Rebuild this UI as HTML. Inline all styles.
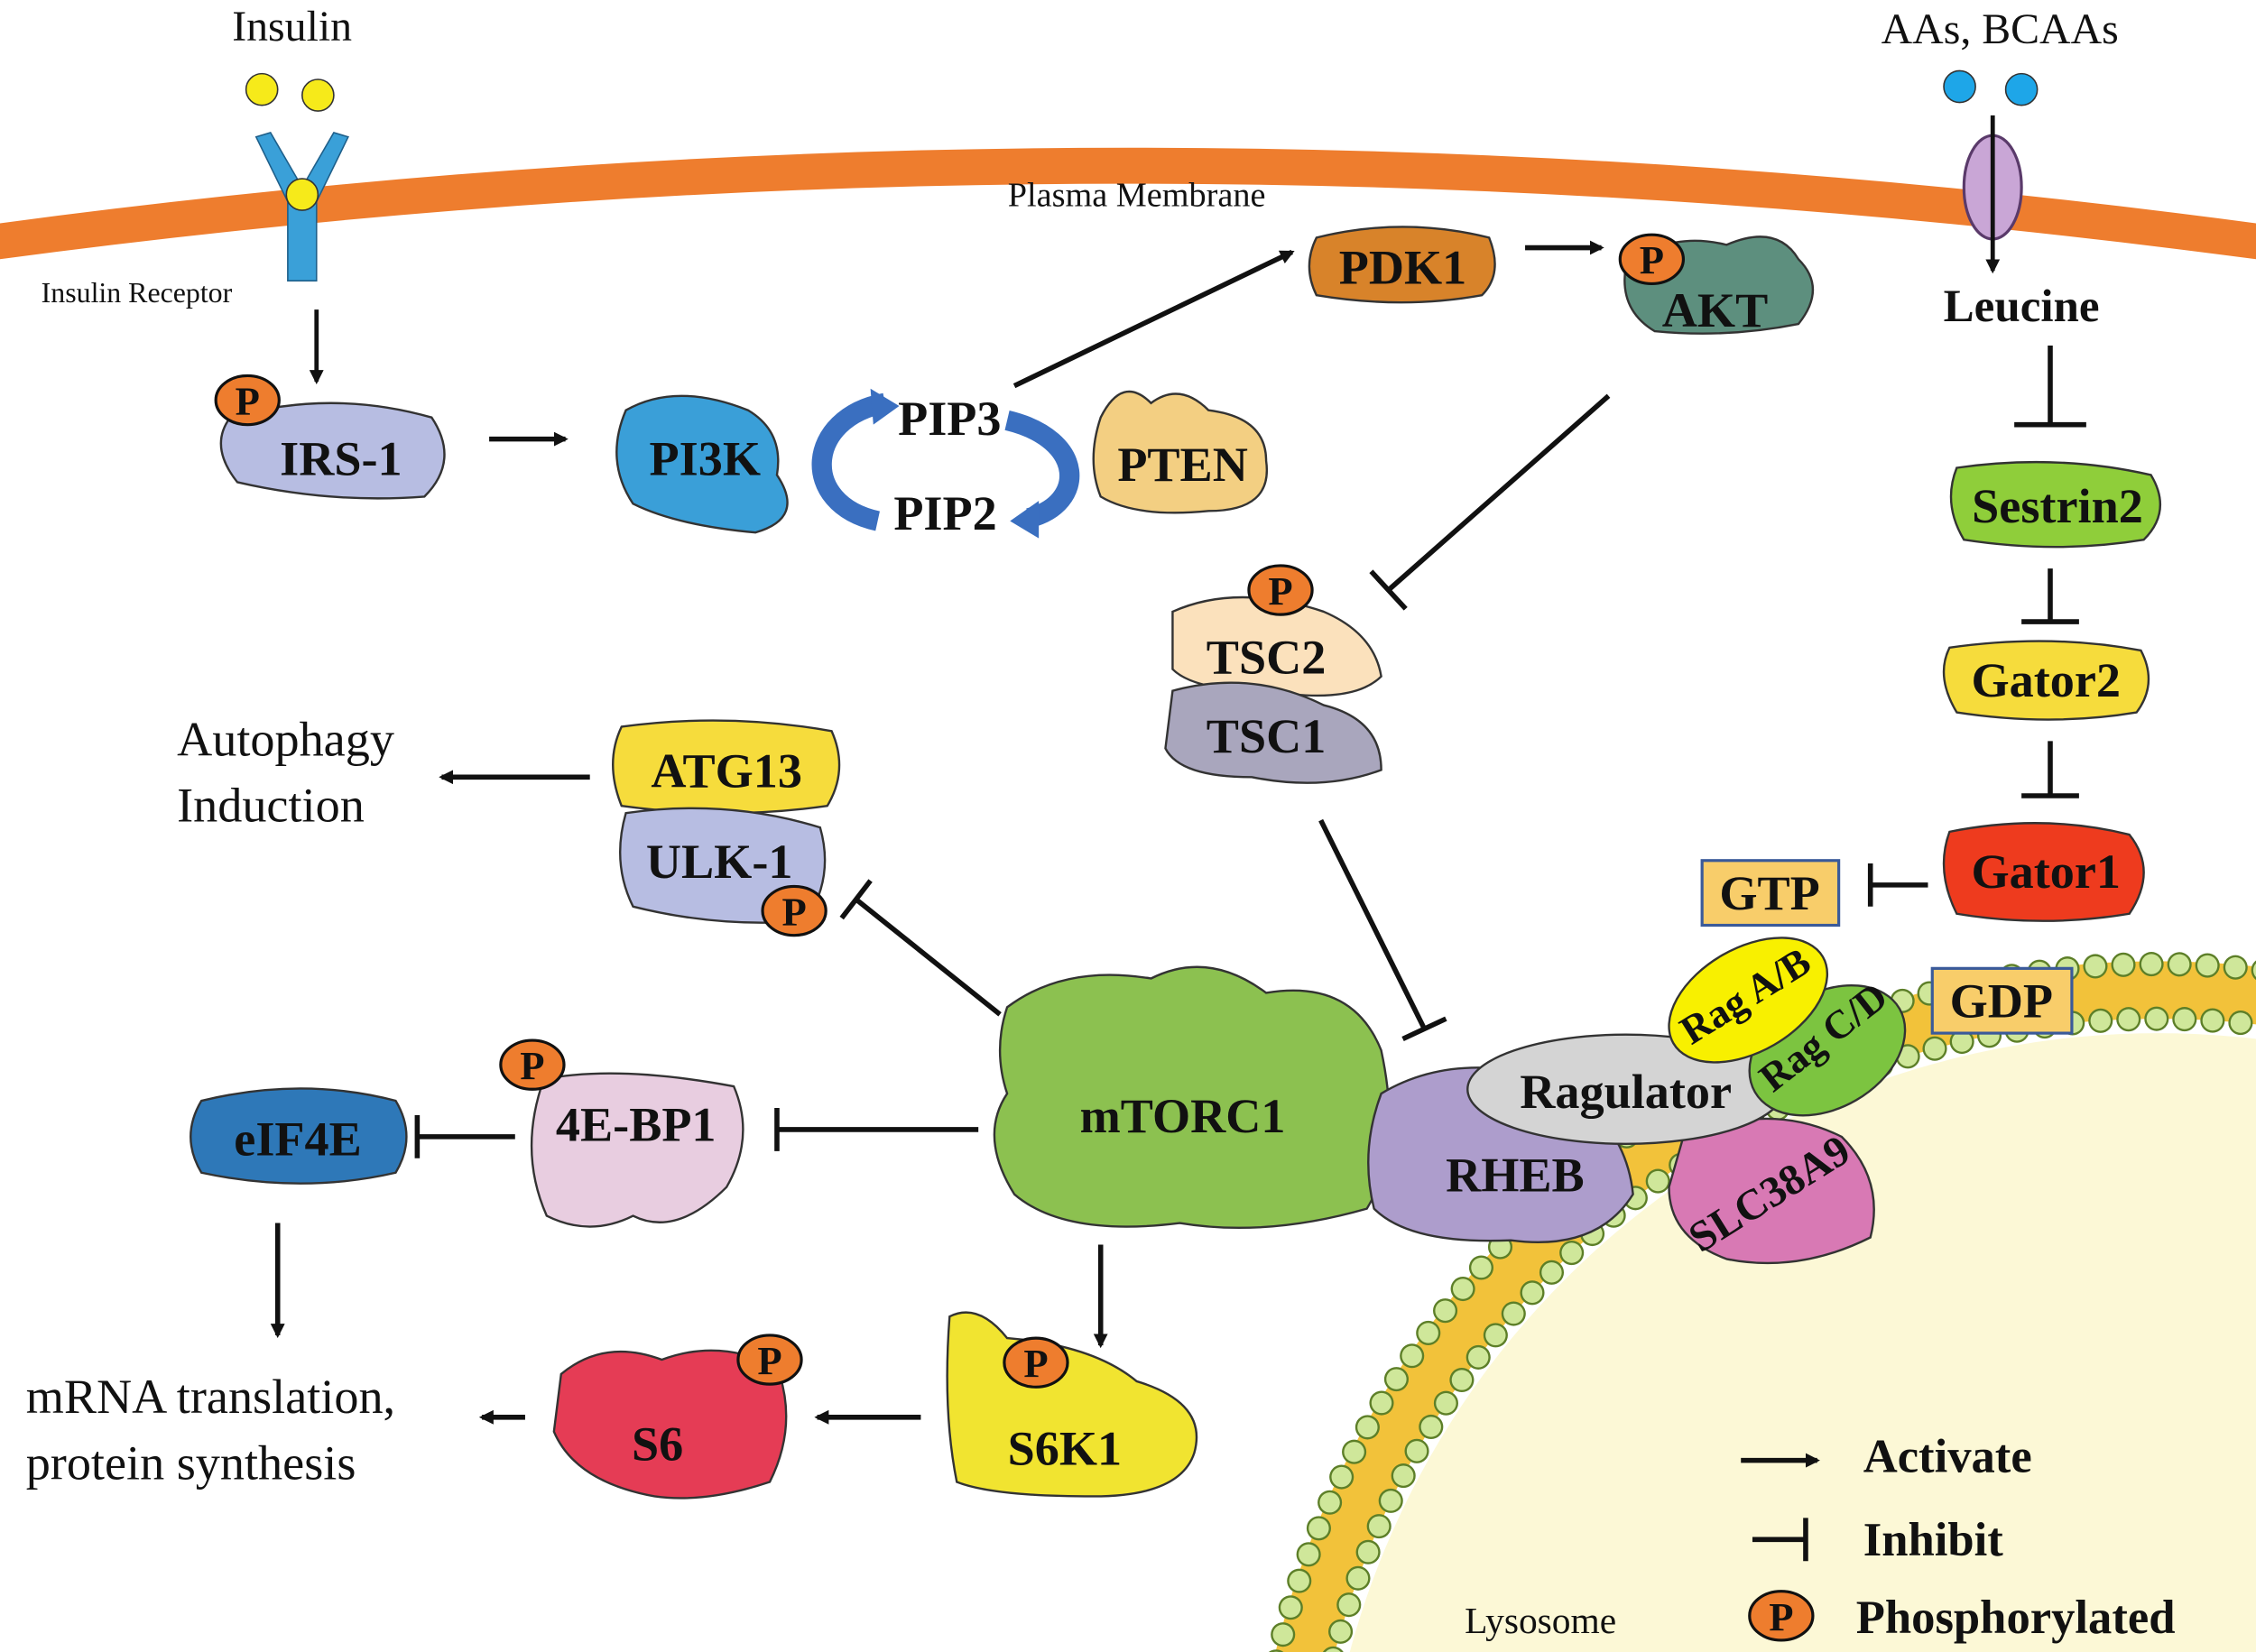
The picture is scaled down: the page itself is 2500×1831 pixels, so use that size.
<!DOCTYPE html>
<html><head><meta charset="utf-8"><style>
html,body{margin:0;padding:0;background:#fff;width:2500px;height:1831px;overflow:hidden}
svg{display:block}
text{font-family:"Liberation Serif",serif;font-weight:bold;fill:#111}
</style></head><body>
<svg width="2500" height="1831" viewBox="0 0 1568 1148" xmlns="http://www.w3.org/2000/svg">
<defs>
<marker id="ar" markerWidth="10" markerHeight="10" refX="8" refY="5" orient="auto" markerUnits="userSpaceOnUse"><path d="M0,0 L10,5 L0,10 z" fill="#111"/></marker>
</defs>
<rect width="1568" height="1148" fill="#fff"/>
<!-- lysosome -->
<circle cx="1500" cy="1300" r="612" fill="none" stroke="#f2c23a" stroke-width="40"/>
<circle cx="1500" cy="1300" r="630" fill="none" stroke="#5d7f28" stroke-width="17" stroke-linecap="round" stroke-dasharray="0 19.5"/>
<circle cx="1500" cy="1300" r="630" fill="none" stroke="#cfe79a" stroke-width="14" stroke-linecap="round" stroke-dasharray="0 19.5"/>
<circle cx="1500" cy="1300" r="592" fill="none" stroke="#5d7f28" stroke-width="17" stroke-linecap="round" stroke-dasharray="0 19.5"/>
<circle cx="1500" cy="1300" r="592" fill="none" stroke="#cfe79a" stroke-width="14" stroke-linecap="round" stroke-dasharray="0 19.5"/>
<circle cx="1500" cy="1300" r="582" fill="#fcf8d6"/>
<!-- membrane -->
<path d="M0,155 Q784,50 1568,155 L1568,180 Q784,75 0,180 Z" fill="#ee7d2e"/>
<text x="790" y="143" font-size="24" text-anchor="middle" style="font-weight:normal">Plasma Membrane</text>
<!-- insulin -->
<text x="203" y="28" font-size="30" text-anchor="middle" style="font-weight:normal">Insulin</text>
<circle cx="182" cy="62" r="11" fill="#f6ea1a" stroke="#333"/>
<circle cx="221" cy="66" r="11" fill="#f6ea1a" stroke="#333"/>
<path d="M178,95 L200,140 L200,195 L220,195 L220,140 L242,95 L232,92 L210,130 L188,92 Z" fill="#3aa0d8" stroke="#1e5f8a"/>
<circle cx="210" cy="135" r="11" fill="#f6ea1a" stroke="#333"/>
<text x="95" y="210" font-size="20" text-anchor="middle" style="font-weight:normal">Insulin Receptor</text>
<line x1="220" y1="215" x2="220" y2="265" stroke="#111" stroke-width="3" marker-end="url(#ar)"/>
<!-- AA -->
<text x="1390" y="30" font-size="30" text-anchor="middle" style="font-weight:normal">AAs, BCAAs</text>
<circle cx="1362" cy="60" r="11" fill="#1ea6e8" stroke="#333"/>
<circle cx="1405" cy="62" r="11" fill="#1ea6e8" stroke="#333"/>
<ellipse cx="1385" cy="130" rx="20" ry="36" fill="#c9a6d6" stroke="#5a3a6a" stroke-width="2"/>
<line x1="1385" y1="80" x2="1385" y2="188" stroke="#111" stroke-width="3" marker-end="url(#ar)"/>
<text x="1405" y="223" font-size="32" text-anchor="middle">Leucine</text>
<!-- arrows/inhibits -->
<g stroke="#111" stroke-width="3.5" fill="none">
<line x1="340" y1="305" x2="393" y2="305" marker-end="url(#ar)"/>
<line x1="705" y1="268" x2="898" y2="175" marker-end="url(#ar)"/>
<line x1="1060" y1="172" x2="1113" y2="172" marker-end="url(#ar)"/>
<line x1="1118" y1="275" x2="965" y2="410"/><line x1="953" y1="397" x2="977" y2="423"/>
<line x1="918" y1="570" x2="990" y2="715"/><line x1="975" y1="722" x2="1005" y2="708"/>
<line x1="1425" y1="240" x2="1425" y2="295"/><line x1="1400" y1="295" x2="1450" y2="295"/>
<line x1="1425" y1="395" x2="1425" y2="432"/><line x1="1405" y1="432" x2="1445" y2="432"/>
<line x1="1425" y1="515" x2="1425" y2="553"/><line x1="1405" y1="553" x2="1445" y2="553"/>
<line x1="1340" y1="615" x2="1300" y2="615"/><line x1="1300" y1="600" x2="1300" y2="630"/>
<line x1="695" y1="705" x2="595" y2="625"/><line x1="585" y1="638" x2="605" y2="612"/>
<line x1="410" y1="540" x2="307" y2="540" marker-end="url(#ar)"/>
<line x1="680" y1="785" x2="540" y2="785"/><line x1="540" y1="770" x2="540" y2="800"/>
<line x1="358" y1="790" x2="290" y2="790"/><line x1="290" y1="775" x2="290" y2="805"/>
<line x1="193" y1="850" x2="193" y2="928" marker-end="url(#ar)"/>
<line x1="365" y1="985" x2="335" y2="985" marker-end="url(#ar)"/>
<line x1="640" y1="985" x2="568" y2="985" marker-end="url(#ar)"/>
<line x1="765" y1="865" x2="765" y2="935" marker-end="url(#ar)"/>
<line x1="1210" y1="1015" x2="1263" y2="1015" marker-end="url(#ar)"/>
<line x1="1218" y1="1070" x2="1255" y2="1070"/><line x1="1255" y1="1055" x2="1255" y2="1085"/>
</g>
<!-- PIP cycle -->
<path d="M615,280 C560,290 555,350 610,362" stroke="#3a6fc0" stroke-width="14" fill="none"/>
<path d="M605,270 L625,282 L607,295 Z" fill="#3a6fc0"/>
<path d="M700,292 C755,305 755,350 715,360" stroke="#3a6fc0" stroke-width="14" fill="none"/>
<path d="M722,348 L702,362 L722,374 Z" fill="#3a6fc0"/>
<!-- proteins -->
<g stroke="#333" stroke-width="1.5">
<path d="M160,290 Q230,270 300,290 Q320,320 295,345 Q230,350 165,335 Q145,310 160,290Z" fill="#b7bde2"/>
<path d="M435,285 Q470,265 520,285 Q545,300 540,330 Q560,360 525,370 Q470,365 440,350 Q420,320 435,285Z" fill="#3a9fd8"/>
<path d="M765,290 Q780,260 800,280 Q820,265 840,285 Q880,290 880,320 Q885,355 840,355 Q790,360 765,345 Q755,320 765,290Z" fill="#f3cf82"/>
<path d="M915,165 Q975,150 1035,165 Q1045,190 1030,205 Q975,215 915,205 Q905,185 915,165Z" fill="#d8832a"/>
<path d="M1130,185 Q1160,160 1200,170 Q1235,155 1250,180 Q1270,200 1250,225 Q1200,235 1150,230 Q1125,215 1130,185Z" fill="#5d8f7e"/>
<path d="M815,425 Q860,405 920,425 Q955,440 960,470 Q940,490 880,480 Q830,480 815,465Z" fill="#fbe1bc"/>
<path d="M815,480 Q870,465 920,490 Q960,500 960,535 Q920,550 870,540 Q820,540 810,520Z" fill="#a9a6bd"/>
<path d="M1360,325 Q1430,315 1495,330 Q1510,355 1490,375 Q1430,385 1365,375 Q1350,350 1360,325Z" fill="#8fce3a"/>
<path d="M1355,450 Q1425,440 1488,452 Q1500,475 1485,495 Q1425,505 1360,495 Q1345,470 1355,450Z" fill="#f6dc3c"/>
<path d="M1355,578 Q1420,565 1480,580 Q1500,605 1480,635 Q1420,645 1360,635 Q1345,605 1355,578Z" fill="#ee3b1e"/>
<path d="M432,505 Q505,495 578,508 Q590,535 575,560 Q505,570 432,560 Q420,530 432,505Z" fill="#f6dc3c"/>
<path d="M435,565 Q505,555 570,575 Q580,610 560,640 Q500,645 440,630 Q425,600 435,565Z" fill="#b7bde2"/>
<path d="M700,700 Q740,670 800,680 Q840,660 880,690 Q940,680 960,730 Q975,800 950,840 Q880,860 820,850 Q740,860 705,830 Q680,790 700,760 Q690,730 700,700Z" fill="#8cc150"/>
<path d="M378,750 Q430,740 510,755 Q525,790 505,825 Q470,860 440,845 Q410,860 380,845 Q360,800 378,750Z" fill="#e8cde0"/>
<path d="M140,765 Q210,748 275,765 Q290,790 275,815 Q210,830 140,815 Q125,790 140,765Z" fill="#2e78b8"/>
<path d="M390,955 Q420,930 460,945 Q500,930 540,950 Q555,990 535,1030 Q490,1045 455,1040 Q400,1030 385,995Z" fill="#e53c55"/>
<path d="M660,915 Q680,905 700,930 Q760,935 790,960 Q840,975 830,1010 Q820,1040 760,1040 Q690,1040 665,1030 Q655,980 660,915Z" fill="#f1e430"/>
<path d="M960,760 Q1010,730 1080,750 Q1130,780 1135,830 Q1110,870 1050,862 Q980,865 955,840 Q945,800 960,760Z" fill="#ad9dcc"/>
<path d="M1170,790 Q1230,765 1280,790 Q1310,820 1300,860 Q1250,885 1200,875 Q1160,860 1160,825Z" fill="#d879b4"/>
<ellipse cx="1130" cy="757" rx="110" ry="38" fill="#d4d4d4"/>
<ellipse cx="1270" cy="730" rx="58" ry="40" fill="#7cc440" transform="rotate(-30 1270 730)"/>
<ellipse cx="1215" cy="695" rx="60" ry="36" fill="#f8f000" transform="rotate(-30 1215 695)"/>
<rect x="1183" y="598" width="95" height="45" fill="#f8cd6a" stroke="#3a5a9a" stroke-width="2"/>
<rect x="1343" y="673" width="97" height="45" fill="#f8cd6a" stroke="#3a5a9a" stroke-width="2"/>
</g>
<!-- P circles -->
<g stroke="#111" stroke-width="2" fill="#ee7d2e">
<ellipse cx="172" cy="278" rx="22" ry="17"/><ellipse cx="1148" cy="180" rx="22" ry="17"/>
<ellipse cx="890" cy="410" rx="22" ry="17"/><ellipse cx="552" cy="633" rx="22" ry="17"/>
<ellipse cx="370" cy="740" rx="22" ry="17"/><ellipse cx="535" cy="945" rx="22" ry="17"/>
<ellipse cx="720" cy="947" rx="22" ry="17"/><ellipse cx="1238" cy="1123" rx="22" ry="17"/>
</g>
<g font-size="28" text-anchor="middle">
<text x="172" y="288">P</text><text x="1148" y="190">P</text><text x="890" y="420">P</text>
<text x="552" y="643">P</text><text x="370" y="750">P</text><text x="535" y="955">P</text>
<text x="720" y="957">P</text><text x="1238" y="1133">P</text>
</g>
<g font-size="34" text-anchor="middle">
<text x="237" y="330">IRS-1</text><text x="490" y="330">PI3K</text>
<text x="660" y="302">PIP3</text><text x="657" y="368">PIP2</text>
<text x="822" y="334">PTEN</text><text x="975" y="197">PDK1</text><text x="1192" y="227">AKT</text>
<text x="880" y="468">TSC2</text><text x="880" y="523">TSC1</text>
<text x="1430" y="363">Sestrin2</text><text x="1422" y="484">Gator2</text><text x="1422" y="617">Gator1</text>
<text x="1230" y="632">GTP</text><text x="1391" y="707">GDP</text>
<text x="505" y="547">ATG13</text><text x="500" y="610">ULK-1</text>
<text x="822" y="787">mTORC1</text><text x="442" y="793">4E-BP1</text><text x="207" y="803">eIF4E</text>
<text x="457" y="1015">S6</text><text x="740" y="1018">S6K1</text>
<text x="1053" y="828">RHEB</text><text x="1130" y="770">Ragulator</text>
<text x="1218" y="700" font-size="28" transform="rotate(-32 1218 700)">Rag A/B</text>
<text x="1273" y="728" font-size="28" transform="rotate(-38 1273 728)">Rag C/D</text>
<text x="1235" y="838" font-size="30" transform="rotate(-32 1235 838)">SLC38A9</text>
</g>
<g font-size="34">
<text x="123" y="525" style="font-weight:normal">Autophagy</text><text x="123" y="571" style="font-weight:normal">Induction</text>
<text x="18" y="982" style="font-weight:normal">mRNA translation,</text><text x="18" y="1028" style="font-weight:normal">protein synthesis</text>
</g>
<text x="1018" y="1135" font-size="26" style="font-weight:normal">Lysosome</text>
<g font-size="33"><text x="1295" y="1023">Activate</text><text x="1295" y="1081">Inhibit</text><text x="1290" y="1135">Phosphorylated</text></g>
</svg>
</body></html>
